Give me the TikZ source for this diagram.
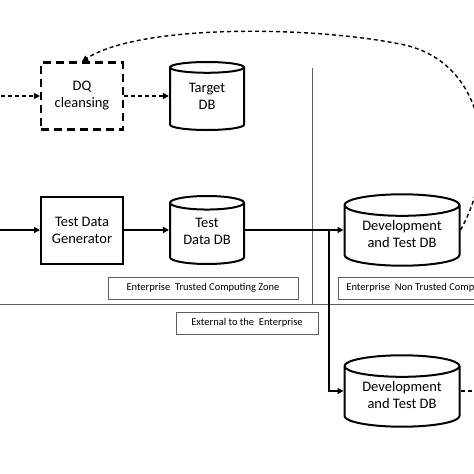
\documentclass[tikz,border=0pt]{standalone}
\usepackage{fontspec}
\setmainfont{Carlito}
\usetikzlibrary{shapes.geometric, arrows.meta}
\definecolor{lineGray}{RGB}{95,95,95}

\begin{document}
\begin{tikzpicture}[x=1pt, y=-1pt,
    box/.style={draw, line width=2pt, minimum width=82pt, minimum height=67pt,
      align=center, font=\fontsize{14.5}{17}\selectfont},
    dqbox/.style={box, line width=2.2pt, dash pattern=on 8pt off 5pt},
    dbase/.style={draw, line width=2pt, cylinder, shape border rotate=90,
      aspect=0.25, minimum width=74pt, minimum height=68pt, align=center,
      anchor=shape center, font=\fontsize{14.5}{17}\selectfont,
      execute at end node={\rule[-8pt]{0pt}{8pt}}},
    zone/.style={draw=lineGray, line width=0.6pt, minimum height=22pt,
      font=\fontsize{10.5}{12}\selectfont},
    flow/.style={line width=1.4pt, -{Triangle[length=6pt,width=6pt]}},
    dflow/.style={flow, dash pattern=on 4pt off 3pt}]
  \useasboundingbox (0,0) rectangle (474,474);
  \clip (0,0) rectangle (474,474);
  % Zone borders
  \draw[lineGray, line width=0.8pt] (-5,304) -- (480,304);
  \draw[lineGray, line width=0.8pt] (312,68) -- (312,304);
  % Boxes and stores
  \node[dqbox] (dq) at (82,96) {DQ\\cleansing};
  \node[dbase] (target) at (207,96) {Target\\DB};
  \node[box] (gen) at (82,230) {Test Data\\Generator};
  \node[dbase] (testdb) at (207,230) {Test\\Data DB};
  \node[dbase, minimum width=115pt] (dev) at (402,230) {Development\\and Test DB};
  \node[dbase, minimum width=115pt] (devext) at (402,391) {Development\\and Test DB};
  % Zone labels
  \node[zone, minimum width=190pt] (trusted) at (203,288) {Enterprise~ Trusted Computing Zone};
  \node[zone, minimum width=190pt] (untrusted) at (433,288) {Enterprise~ Non Trusted Computing Zone};
  \node[zone, minimum width=142pt] (external) at (247,323) {External to the~ Enterprise};
  % Flows
  \coordinate (srcA) at (-20,96);
  \coordinate (srcB) at (-20,230);
  \coordinate (split) at (329,230);
  \coordinate (outB) at (500,391);
  \draw[dflow] (srcA) -- (dq);
  \draw[dflow] (dq) -- (dq -| target.west);
  \draw[flow] (srcB) -- (gen);
  \draw[flow] (gen) -- (gen -| testdb.west);
  \draw[flow] (testdb.shape center -| testdb.east) -- (testdb.shape center -| dev.west);
  \draw[flow] (split) |- (devext.shape center -| devext.west);
  \draw[dflow] (devext.shape center -| devext.east) -- (outB);
  \draw[dflow] (dev.shape center -| dev.east) .. controls (500,160) and (485,60) .. (400,44)
    .. controls (310,26) and (140,24) .. (dq.north);
\end{tikzpicture}
\end{document}
